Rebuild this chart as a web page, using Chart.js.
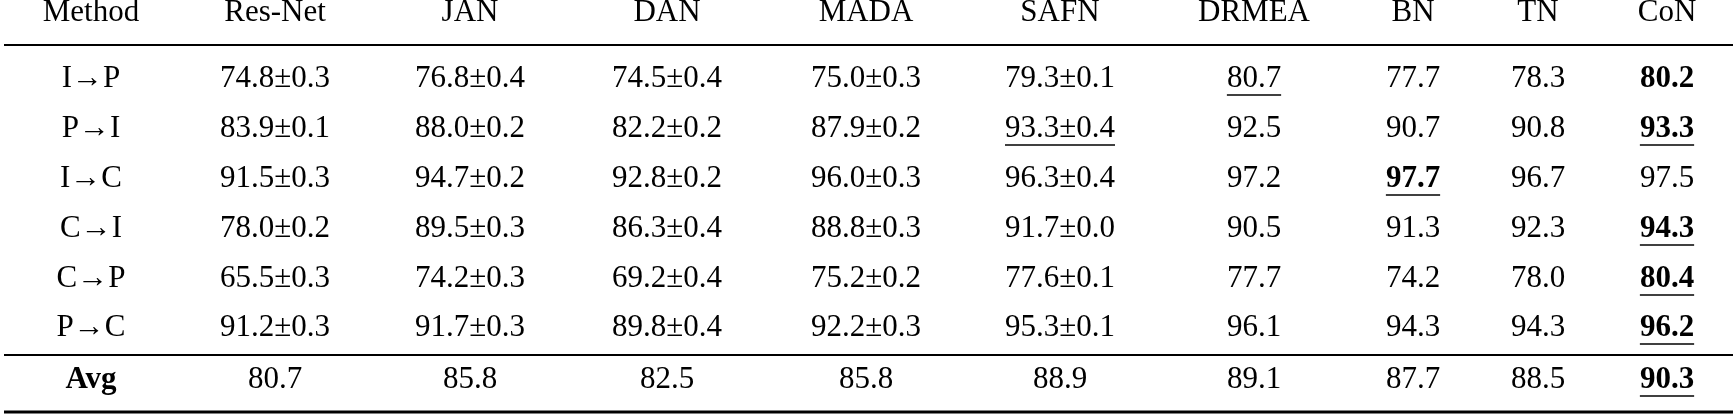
<!DOCTYPE html>
<html><head><meta charset="utf-8">
<script src="https://cdn.jsdelivr.net/npm/chart.js@4"></script>
<style>html,body{margin:0;padding:0;background:#fff}#w{width:1735px;height:415px}</style>
</head><body><div id="w"><canvas id="c"></canvas></div>
<script>
const methods = ['Res-Net','JAN','DAN','MADA','SAFN','DRMEA','BN','TN','CoN'];
const tasks = ['I→P','P→I','I→C','C→I','C→P','P→C'];
const resnet = ['74.8±0.3','83.9±0.1','91.5±0.3','78.0±0.2','65.5±0.3','91.2±0.3'];
const jan    = ['76.8±0.4','88.0±0.2','94.7±0.2','89.5±0.3','74.2±0.3','91.7±0.3'];
const dan    = ['74.5±0.4','82.2±0.2','92.8±0.2','86.3±0.4','69.2±0.4','89.8±0.4'];
const mada   = ['75.0±0.3','87.9±0.2','96.0±0.3','88.8±0.3','75.2±0.2','92.2±0.3'];
const safn   = ['79.3±0.1','93.3±0.4','96.3±0.4','91.7±0.0','77.6±0.1','95.3±0.1'];
const drmea  = ['80.7','92.5','97.2','90.5','77.7','96.1'];
const bn     = ['77.7','90.7','97.7','91.3','74.2','94.3'];
const tn     = ['78.3','90.8','96.7','92.3','78.0','94.3'];
const con    = ['80.2','93.3','97.5','94.3','80.4','96.2'];
const avg    = ['80.7','85.8','82.5','85.8','88.9','89.1','87.7','88.5','90.3'];
// bold / underline flags: [colIndex,rowIndex], row 6 = Avg
const boldCells = [[8,0],[8,1],[8,3],[8,4],[8,5],[8,6],[6,2]];
const underCells = [[5,0],[4,1],[8,1],[6,2],[8,3],[8,4],[8,5],[8,6]];

const cols = [resnet,jan,dan,mada,safn,drmea,bn,tn,con];
const colX = [91,275,470,667,866,1060,1254,1413,1538,1667];
const rowY = [79,129,179,229,279,328,380];
const has = (arr,c,r)=>arr.some(a=>a[0]===c&&a[1]===r);

const tablePlugin = {
  id:'table',
  afterDraw(chart){
    const ctx = chart.ctx;
    ctx.save();
    ctx.fillStyle='#000'; ctx.strokeStyle='#000';
    ctx.textAlign='center'; ctx.textBaseline='middle';
    const font = (b)=> (b?'bold ':'')+'31px "Liberation Serif", "Times New Roman", serif';
    const txt=(s,x,y,b,u)=>{
      ctx.font=font(b); ctx.fillText(s,x,y);
      if(u){const w=ctx.measureText(s).width; ctx.lineWidth=1.5; ctx.beginPath(); ctx.moveTo(x-w/2,y+16); ctx.lineTo(x+w/2,y+16); ctx.stroke();}
    };
    txt('Method',colX[0],13,false,false);
    methods.forEach((m,i)=>txt(m,colX[i+1],13,false,false));
    tasks.forEach((t,r)=>{
      txt(t,colX[0],rowY[r],false,false);
      cols.forEach((col,c)=>txt(col[r],colX[c+1],rowY[r],has(boldCells,c,r),has(underCells,c,r)));
    });
    txt('Avg',colX[0],rowY[6],true,false);
    avg.forEach((v,c)=>txt(v,colX[c+1],rowY[6],has(boldCells,c,6),has(underCells,c,6)));
    const rule=(y,w)=>{ctx.lineWidth=w; ctx.beginPath(); ctx.moveTo(4,y); ctx.lineTo(1733,y); ctx.stroke();};
    rule(45,2); rule(355,2); rule(412,3);
    ctx.restore();
  }
};

new Chart(document.getElementById('c'),{
  type:'bar',
  data:{labels:methods,datasets:[{data:avg.map(Number),backgroundColor:'rgba(0,0,0,0)'}]},
  options:{responsive:true,maintainAspectRatio:false,animation:false,
    layout:{padding:0},
    plugins:{legend:{display:false},tooltip:{enabled:false}},
    scales:{x:{display:false},y:{display:false,min:0,max:100}}},
  plugins:[tablePlugin]
});
</script></body></html>
